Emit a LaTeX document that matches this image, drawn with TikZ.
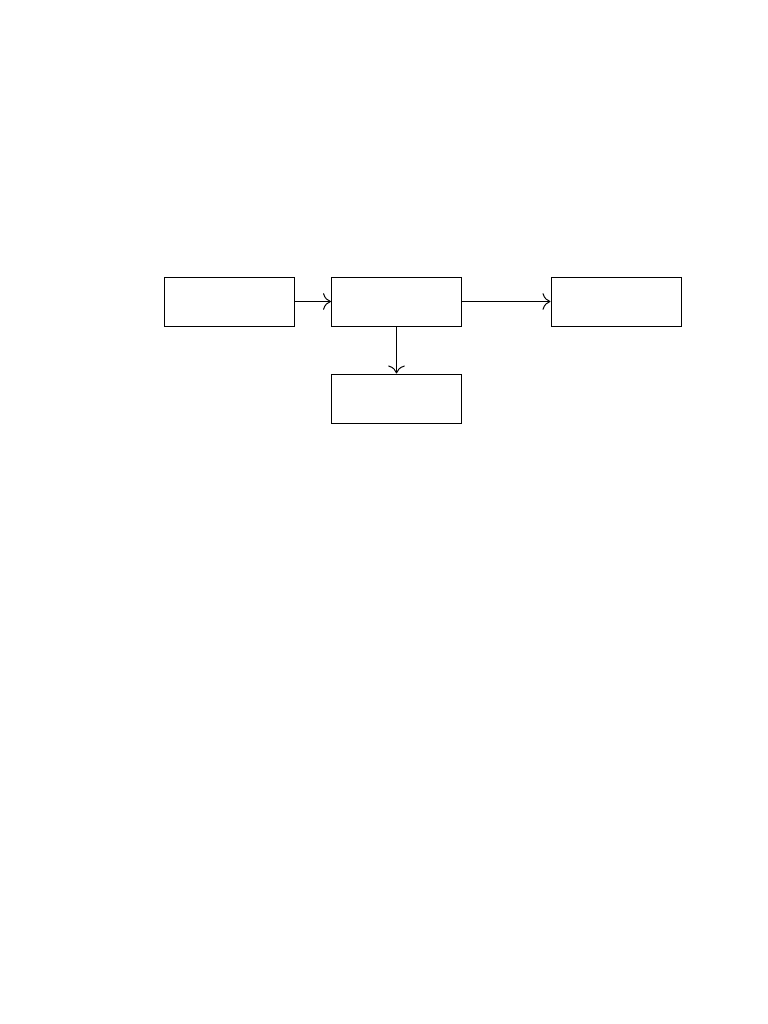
\documentclass[tikz,border=0pt]{standalone}
\usepackage{amsmath}
\usepackage{tikz}
\usetikzlibrary{arrows.meta}

\begin{document}
\begin{tikzpicture}[x=0.025cm,y=-0.025cm,line width=0.7pt,>={To[scale=1.8]}]

		\useasboundingbox (0,0) rectangle (768,1024);

		\tikzset{blk/.style={shape=rectangle,draw=black,minimum width=3.25cm,minimum height=1.225cm,inner sep=0pt}}

		\node[blk] (a) at (229.5, 301.5)   {};
		\node[blk] (b) at (396.5, 301.5)   {};
		\node[blk] (c) at (616, 301.5)     {};
		\node[blk] (d) at (396.5, 398.5)   {};

		\path[->] (a) edge  node[above] {} (b);
		\path[->] (b) edge  node[above] {} (c);
		\path[->] (b) edge  node[left]  {} (d);
		\end{tikzpicture}
\end{document}
